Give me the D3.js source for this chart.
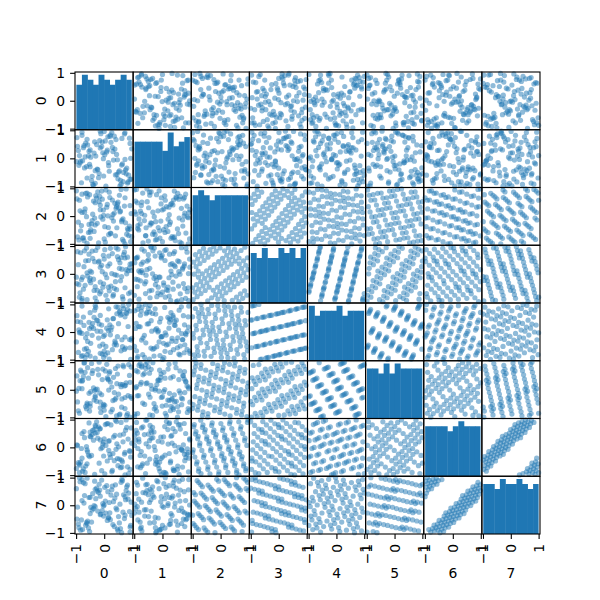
<!DOCTYPE html>
<html>
<head>
<meta charset="utf-8">
<script src="https://cdnjs.cloudflare.com/ajax/libs/d3/7.8.5/d3.min.js"></script>
<style>
  body { margin: 0; background: #fff; }
  text { font-family: 'DejaVu Sans', sans-serif; }
</style>
</head>
<body>
<div id="canvas"></div>
<script>
// column names
const labels = ['0', '1', '2', '3', '4', '5', '6', '7'];

// values of each column (100 rows)
const col0 = [-0.5, 0.74, -0.79, 0.15, 0.04, -0.18, -0.63, -0.36, -0.99, 0.92, -0.43, 0.87, -0.52, -0.14, -0.54, 0.65, -0.97, 0.96, 0.83, -0.61, -0.32, 0.27, -0.56, -0.23, 0.44, 0.62, 0.98, -0.3, -0.86, -0.81, -0.72, 0.29, 0.31, -0.48, 0.78, 0.47, 0.67, 0.24, -0.61, 0.51, 0.76, -0.74, -0.59, 0.56, 0.02, 0.94, -0.38, 0.13, -0.84, 0.06, -0.14, 0.63, 0.16, -0.79, -0.68, -0.45, 0, -0.27, 0.36, 0.45, -0.2, 0.49, -0.12, -0.5, -0.09, 0.72, 0.33, 0.4, 0.54, -0.03, -0.32, -0.9, -0.07, -0.41, 0.92, 0.74, 0.38, -0.34, 0.22, 0.18, 0.09, -0.92, -0.95, -0.16, 0.58, 0.9, 0.69, -0.88, -0.02, 0.85, 0.6, 0.11, -0.05, 0.8, -0.66, 0.42, -0.25, -0.77, 0.2, -0.7];
const col1 = [0.3, -0.04, 0.93, -0.15, 0.62, -0.54, -0.29, 0.19, -0.12, -0.75, -0.64, -0.6, -0.21, 0.97, 0.25, -0.2, 0.74, -0.74, -0.88, 0.68, -0.89, 0.92, 0.09, -0.4, 0.14, -0.24, 0.34, 0.08, -0.16, -0.87, 0.45, 0.39, 0.24, 0.04, -0.55, -0.05, -0.83, 0.57, -0.7, -0.49, -0.41, 0.38, 0.48, -0.98, 0.13, 0, -0.95, 0.77, -0.1, -0.99, 0.37, 0.71, -0.26, 0.82, 0.05, -0.79, 0.96, 0.49, 0.79, -0.58, -0.69, -0.73, 0.88, -0.3, 0.42, 0.87, -0.06, -0.59, -0.45, -0.01, -0.44, -0.25, 0.58, -0.93, 0.53, 0.91, 0.33, 0.59, 0.83, -0.46, 0.23, 0.28, 0.43, 0.63, -0.78, 0.72, -0.5, 0.1, -0.63, -0.84, -0.92, 0.29, 0.2, -0.35, 0.54, 0.67, -0.38, -0.09, 0.78, -0.34];
const col2 = [-0.8, 0.66, 0.13, -0.41, -0.94, 0.52, -0.02, -0.55, 0.91, 0.38, -0.16, -0.7, 0.77, 0.23, -0.3, -0.84, 0.62, 0.09, -0.45, -0.98, 0.48, -0.06, -0.59, 0.87, 0.34, -0.2, -0.74, 0.73, 0.19, -0.34, -0.88, 0.58, 0.05, -0.49, 0.98, 0.44, -0.1, -0.63, 0.83, 0.3, -0.24, -0.78, 0.69, 0.15, -0.38, -0.92, 0.54, 0.01, -0.53, 0.94, 0.4, -0.14, -0.67, 0.79, 0.26, -0.28, -0.82, 0.65, 0.11, -0.42, -0.96, 0.5, -0.03, -0.57, 0.9, 0.36, -0.18, -0.71, 0.75, 0.22, -0.32, -0.86, 0.61, 0.07, -0.46, -1, 0.46, -0.07, -0.61, 0.86, 0.32, -0.22, -0.75, 0.71, 0.18, -0.36, -0.9, 0.57, 0.03, -0.5, 0.96, 0.42, -0.11, -0.65, 0.82, 0.28, -0.26, -0.79, 0.67, 0.14];
const col3 = [0.1, 0.57, -0.96, -0.48, -0.01, 0.46, 0.93, -0.6, -0.12, 0.35, 0.82, -0.71, -0.24, 0.24, 0.71, -0.82, -0.35, 0.12, 0.6, -0.93, -0.46, 0.01, 0.48, 0.96, -0.57, -0.1, 0.37, 0.84, -0.68, -0.21, 0.26, 0.73, -0.8, -0.32, 0.15, 0.62, -0.91, -0.44, 0.04, 0.51, 0.98, -0.55, -0.08, 0.4, 0.87, -0.66, -0.19, 0.28, 0.76, -0.77, -0.3, 0.17, 0.64, -0.88, -0.41, 0.06, 0.53, -1, -0.52, -0.05, 0.42, 0.89, -0.64, -0.16, 0.31, 0.78, -0.75, -0.28, 0.2, 0.67, -0.86, -0.39, 0.08, 0.56, -0.97, -0.5, -0.03, 0.44, 0.92, -0.61, -0.14, 0.33, 0.8, -0.72, -0.25, 0.22, 0.69, -0.84, -0.36, 0.11, 0.58, -0.95, -0.48, 0, 0.47, 0.94, -0.59, -0.12, 0.36, 0.83];
const col4 = [0.7, -0.18, 0.94, 0.05, -0.83, 0.29, -0.59, 0.53, -0.36, 0.76, -0.12, 1, 0.12, -0.77, 0.35, -0.53, 0.59, -0.29, 0.82, -0.06, -0.94, 0.18, -0.7, 0.41, -0.47, 0.65, -0.23, 0.89, 0, -0.88, 0.24, -0.64, 0.48, -0.41, 0.71, -0.17, 0.95, 0.07, -0.82, 0.3, -0.58, 0.54, -0.34, 0.77, -0.11, -0.99, 0.13, -0.75, 0.36, -0.52, 0.6, -0.28, 0.84, -0.05, -0.93, 0.19, -0.69, 0.43, -0.46, 0.66, -0.22, 0.9, 0.02, -0.87, 0.25, -0.63, 0.49, -0.39, 0.72, -0.16, 0.96, 0.08, -0.8, 0.31, -0.57, 0.55, -0.33, 0.79, -0.1, -0.98, 0.14, -0.74, 0.38, -0.51, 0.61, -0.27, 0.85, -0.03, -0.92, 0.2, -0.68, 0.44, -0.44, 0.67, -0.21, 0.91, 0.03, -0.85, 0.26, -0.62];
const col5 = [-0.6, -0.28, 0.04, 0.36, 0.68, 1, -0.69, -0.37, -0.05, 0.27, 0.59, 0.91, -0.77, -0.45, -0.13, 0.19, 0.5, 0.82, -0.86, -0.54, -0.22, 0.1, 0.42, 0.74, -0.94, -0.63, -0.31, 0.01, 0.33, 0.65, 0.97, -0.71, -0.39, -0.07, 0.25, 0.57, 0.88, -0.8, -0.48, -0.16, 0.16, 0.48, 0.8, -0.88, -0.56, -0.25, 0.07, 0.39, 0.71, -0.97, -0.65, -0.33, -0.01, 0.31, 0.63, 0.95, -0.74, -0.42, -0.1, 0.22, 0.54, 0.86, -0.82, -0.5, -0.18, 0.14, 0.45, 0.77, -0.91, -0.59, -0.27, 0.05, 0.37, 0.69, -0.99, -0.68, -0.36, -0.04, 0.28, 0.6, 0.92, -0.76, -0.44, -0.12, 0.2, 0.52, 0.83, -0.85, -0.53, -0.21, 0.11, 0.43, 0.75, -0.93, -0.61, -0.3, 0.02, 0.34, 0.66, 0.98];
const col6 = [0.4, -0.99, -0.39, 0.22, 0.82, -0.57, 0.03, 0.64, -0.76, -0.15, 0.46, -0.94, -0.33, 0.27, 0.88, -0.52, 0.09, 0.7, -0.7, -0.09, 0.51, -0.88, -0.28, 0.33, 0.93, -0.46, 0.15, 0.75, -0.64, -0.04, 0.57, -0.83, -0.22, 0.38, 0.99, -0.4, 0.2, 0.81, -0.59, 0.02, 0.62, -0.77, -0.16, 0.44, -0.95, -0.35, 0.26, 0.86, -0.53, 0.07, 0.68, -0.71, -0.11, 0.5, -0.9, -0.29, 0.31, 0.92, -0.48, 0.13, 0.74, -0.66, -0.05, 0.55, -0.84, -0.24, 0.37, 0.98, -0.42, 0.19, 0.79, -0.6, 0, 0.61, -0.79, -0.18, 0.43, -0.97, -0.36, 0.24, 0.85, -0.55, 0.06, 0.66, -0.73, -0.12, 0.48, -0.91, -0.31, 0.3, 0.9, -0.49, 0.12, 0.72, -0.67, -0.07, 0.54, -0.86, -0.25, 0.35];
const col7 = [-0.3, 0.31, 0.93, -0.46, 0.15, 0.76, -0.62, -0.01, 0.6, -0.79, -0.17, 0.44, -0.95, -0.34, 0.28, 0.89, -0.5, 0.11, 0.73, -0.66, -0.05, 0.56, -0.82, -0.21, 0.4, -0.99, -0.37, 0.24, 0.85, -0.53, 0.08, 0.69, -0.7, -0.08, 0.53, -0.86, -0.25, 0.37, 0.98, -0.41, 0.2, 0.82, -0.57, 0.04, 0.65, -0.73, -0.12, 0.49, -0.9, -0.28, 0.33, 0.94, -0.44, 0.17, 0.78, -0.61, 0.01, 0.62, -0.77, -0.16, 0.46, -0.93, -0.32, 0.29, 0.91, -0.48, 0.13, 0.74, -0.64, -0.03, 0.58, -0.81, -0.19, 0.42, -0.97, -0.36, 0.26, 0.87, -0.52, 0.1, 0.71, -0.68, -0.07, 0.55, -0.84, -0.23, 0.38, 1, -0.39, 0.22, 0.83, -0.55, 0.06, 0.67, -0.72, -0.1, 0.51, -0.88, -0.27, 0.35];

const columns = [col0, col1, col2, col3, col4, col5, col6, col7];
const tickVals = [-1, 0, 1];

const width = 600, height = 600;
const margin = {left: 75, right: 60, top: 72, bottom: 66};
const n = columns.length;
const cellW = (width - margin.left - margin.right) / n;
const cellH = (height - margin.top - margin.bottom) / n;
const blue = '#1f77b4';
const fontSize = 13.9;
const tickLen = 4.9;

const svg = d3.select('#canvas')
  .append('svg')
  .attr('width', width)
  .attr('height', height);

// axis range of every column, padded like pandas (5% split on both sides)
const ranges = columns.map(c => {
  const [lo, hi] = d3.extent(c);
  const pad = (hi - lo) * 0.05 / 2;
  return [lo - pad, hi + pad];
});

const fmt = d => d < 0 ? '\u2212' + Math.abs(d) : String(d);

for (let i = 0; i < n; i++) {
  for (let j = 0; j < n; j++) {
    const g = svg.append('g')
      .attr('transform', `translate(${margin.left + j * cellW}, ${margin.top + i * cellH})`);

    const x = d3.scaleLinear().domain(ranges[j]).range([0, cellW]);
    const yVar = d3.scaleLinear().domain(ranges[i]).range([cellH, 0]);

    if (i === j) {
      // histogram, 10 equal bins between min and max
      const [lo, hi] = d3.extent(columns[i]);
      const thresholds = d3.range(1, 10).map(k => lo + k * (hi - lo) / 10);
      const bins = d3.bin().domain([lo, hi]).thresholds(thresholds)(columns[i]);
      const yCount = d3.scaleLinear()
        .domain([0, d3.max(bins, b => b.length) * 1.05])
        .range([cellH, 0]);

      g.selectAll('rect.bar')
        .data(bins)
        .enter()
        .append('rect')
          .attr('class', 'bar')
          .attr('x', d => x(d.x0))
          // a hair wider so neighbouring bars do not show a seam
          .attr('width', (d, k) => x(d.x1) - x(d.x0) + (k < bins.length - 1 ? 0.4 : 0))
          .attr('y', d => yCount(d.length))
          .attr('height', d => cellH - yCount(d.length))
          .attr('fill', blue);
    } else {
      const pts = columns[j].map((v, k) => [v, columns[i][k]]);
      g.selectAll('circle')
        .data(pts)
        .enter()
        .append('circle')
          .attr('cx', d => x(d[0]))
          .attr('cy', d => yVar(d[1]))
          .attr('r', 2.6)
          .attr('fill', blue)
          .attr('fill-opacity', 0.5);
    }

    // frame
    g.append('rect')
      .attr('width', cellW)
      .attr('height', cellH)
      .attr('fill', 'none')
      .attr('stroke', '#000')
      .attr('stroke-width', 1.1);

    // y axis on the first column
    if (j === 0) {
      const ax = g.append('g')
        .call(d3.axisLeft(yVar).tickValues(tickVals).tickFormat(fmt)
          .tickSize(tickLen).tickSizeOuter(0).tickPadding(4.9));
      ax.select('.domain').remove();
      ax.selectAll('line').attr('stroke-width', 1.1);
      ax.selectAll('text').attr('font-size', fontSize).attr('fill', '#000')
        .style('font-family', "'DejaVu Sans', sans-serif");

      svg.append('text')
        .attr('transform', `translate(46, ${margin.top + (i + 0.5) * cellH}) rotate(-90)`)
        .attr('text-anchor', 'middle')
        .attr('font-size', fontSize)
        .text(labels[i]);
    }

    // x axis on the last row, labels turned upright
    if (i === n - 1) {
      const ax = g.append('g')
        .attr('transform', `translate(0, ${cellH})`)
        .call(d3.axisBottom(x).tickValues(tickVals).tickFormat(fmt)
          .tickSize(tickLen).tickSizeOuter(0));
      ax.select('.domain').remove();
      ax.selectAll('line').attr('stroke-width', 1.1);
      ax.selectAll('text')
        .attr('font-size', fontSize)
        .attr('fill', '#000')
        .style('font-family', "'DejaVu Sans', sans-serif")
        .attr('transform', 'rotate(-90)')
        .attr('text-anchor', 'end')
        .attr('x', -(tickLen + 4.9))
        .attr('y', 0)
        .attr('dy', '0.35em');

      svg.append('text')
        .attr('x', margin.left + (j + 0.5) * cellW)
        .attr('y', 578)
        .attr('text-anchor', 'middle')
        .attr('font-size', fontSize)
        .text(labels[j]);
    }
  }
}
</script>
</body>
</html>
